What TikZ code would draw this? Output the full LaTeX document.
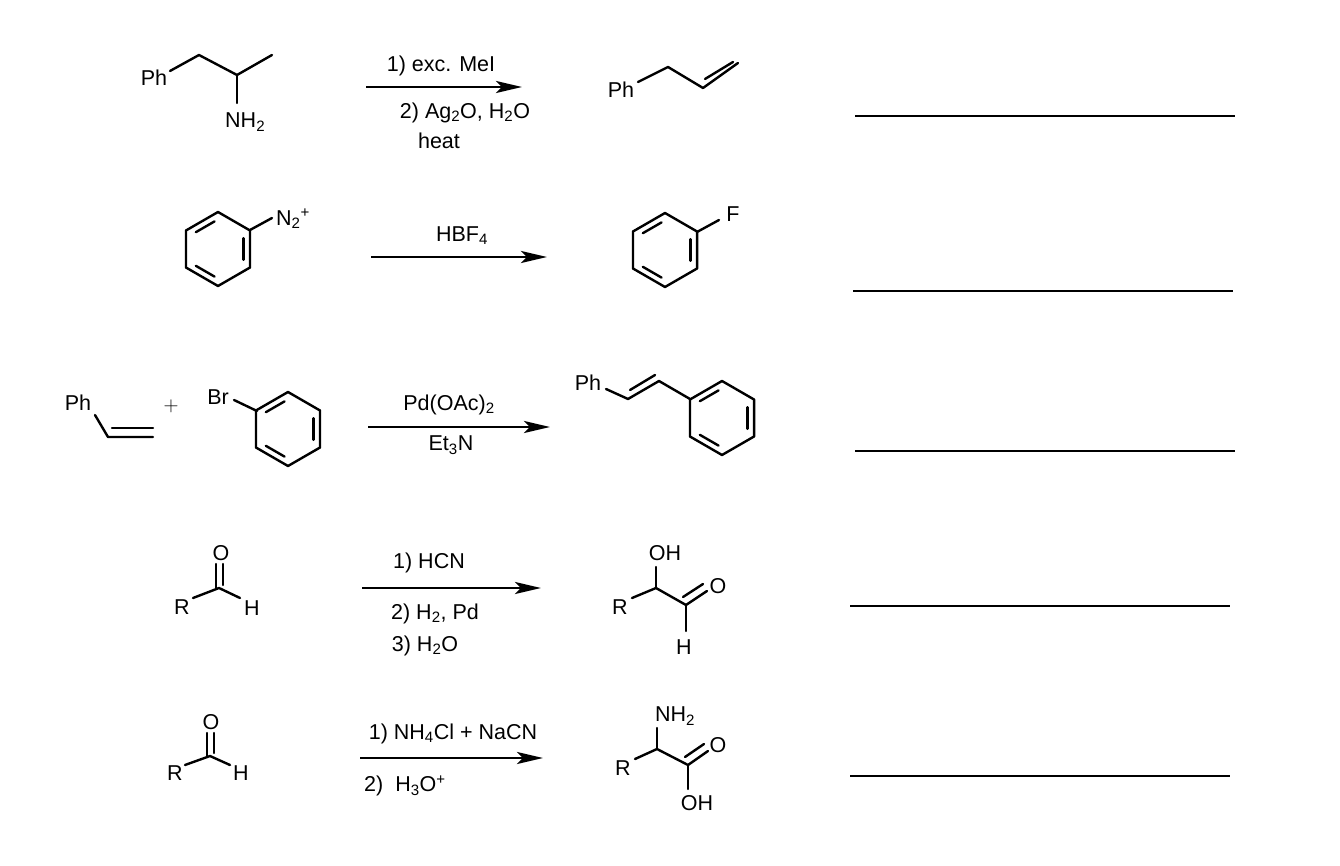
\documentclass[tikz,border=0pt]{standalone}
\usepackage{fontspec}
\setmainfont{Liberation Sans}
\usetikzlibrary{arrows.meta,calc}
\tikzset{
  bond/.style={line width=2.4pt,line cap=round,line join=round},
  rxn/.style={line width=2.8pt,-{Stealth[length=26pt,width=12pt,inset=6pt]}},
  lbl/.style={inner sep=0pt,font=\fontsize{21.5}{25}\selectfont},
  ansline/.style={line width=2.6pt}
}
\newcommand{\benz}[3]{%
  \draw[bond] ($(#1,#2)+(30:#3)$) -- ($(#1,#2)+(90:#3)$) -- ($(#1,#2)+(150:#3)$) -- ($(#1,#2)+(210:#3)$) -- ($(#1,#2)+(270:#3)$) -- ($(#1,#2)+(330:#3)$) -- cycle;
  \foreach \a in {210,330,90}{
    \draw[bond,shorten <=4pt,shorten >=4pt] ($(#1,#2)+(\a:0.8*#3)$) -- ($(#1,#2)+(\a+60:0.8*#3)$);
  }}
\begin{document}
\begin{tikzpicture}[x=1pt,y=-1pt]
\useasboundingbox (0,0) rectangle (1340,866);
% ---- Row 1
\node[lbl] (ph1) at (154,78) {Ph};
\draw[bond] (170,71) -- (199,55) -- (237,75) -- (272,55);
\draw[bond] (237,75) -- (237,103);
\node[lbl,anchor=west] (nh2a) at (225,122) {NH\textsubscript{2}};
\draw[rxn] (366,87) -- (522,87);
\node[lbl] (r1a) at (441,66) {1) exc. MeI};
\node[lbl] (r1b) at (465,113) {2) Ag\textsubscript{2}O, H\textsubscript{2}O};
\node[lbl] (r1c) at (439,141) {heat};
\node[lbl] (ph1p) at (621,90) {Ph};
\draw[bond] (638,82) -- (668,67) -- (703,88) -- (738,63);
\draw[bond] (705,79) -- (733,62);
\draw[ansline] (855,116) -- (1235,116);
% ---- Row 2
\benz{218}{249}{37}
\draw[bond] (250,230) -- (272,218);
\node[lbl,anchor=west] (n2) at (276,219) {N\textsubscript{2}\textsuperscript{+}};
\draw[rxn] (371,257) -- (547,257);
\node[lbl] (r2) at (462,236) {HBF\textsubscript{4}};
\benz{665}{250}{37}
\draw[bond] (697,232) -- (719,220);
\node[lbl] (f) at (733,214) {F};
\draw[ansline] (853,291) -- (1233,291);
% ---- Row 3
\node[lbl] (ph3) at (78,403) {Ph};
\draw[bond] (95,415) -- (108,437) -- (153,437);
\draw[bond] (112,428) -- (153,428);
\node[lbl,font=\fontsize{21.5}{25}\selectfont\rmfamily] (plus) at (171,406) {$+$};
\node[lbl] (br) at (218,397) {Br};
\draw[bond] (234,400) -- (257,411);
\benz{288}{429}{37}
\draw[rxn] (368,427) -- (550,427);
\node[lbl] (r3a) at (449,405) {Pd(OAc)\textsubscript{2}};
\node[lbl] (r3b) at (451,445) {Et\textsubscript{3}N};
\node[lbl] (ph3p) at (588,383) {Ph};
\draw[bond] (606,389) -- (628,399) -- (659,381) -- (690,399);
\draw[bond] (630,390) -- (655,375);
\benz{722}{418}{37}
\draw[ansline] (855,451) -- (1235,451);
% ---- Row 4
\node[lbl] (o4) at (221,553) {O};
\draw[bond] (216,564) -- (216,589);
\draw[bond] (223,564) -- (223,585);
\draw[bond] (193,598) -- (219,588) -- (240,598);
\node[lbl] (r4) at (182,607) {R};
\node[lbl] (h4) at (252,608) {H};
\draw[rxn] (362,588) -- (541,588);
\node[lbl] (r4a) at (429,563) {1) HCN};
\node[lbl] (r4b) at (435,614) {2) H\textsubscript{2}, Pd};
\node[lbl] (r4c) at (425,646) {3) H\textsubscript{2}O};
\node[lbl] (r4p) at (620,607) {R};
\draw[bond] (632,598) -- (656,588) -- (686,605) -- (707,591);
\draw[bond] (683,597) -- (703,584);
\draw[bond] (656,588) -- (656,567);
\draw[bond] (686,605) -- (686,631);
\node[lbl] (oh4) at (665,553) {OH};
\node[lbl] (o4p) at (718,586) {O};
\node[lbl] (h4p) at (684,647) {H};
\draw[ansline] (850,606) -- (1230,606);
% ---- Row 5
\node[lbl] (o5) at (211,722) {O};
\draw[bond] (207,733) -- (207,757);
\draw[bond] (214,733) -- (214,753);
\draw[bond] (185,765) -- (210,756) -- (230,765);
\node[lbl] (r5) at (175,773) {R};
\node[lbl] (h5) at (241,773) {H};
\draw[rxn] (360,758) -- (543,758);
\node[lbl] (r5a) at (453,734) {1) NH\textsubscript{4}Cl + NaCN};
\node[lbl,anchor=west] (r5b) at (364,786) {2)\ \ H\textsubscript{3}O\textsuperscript{+}};
\node[lbl] (r5p) at (623,768) {R};
\draw[bond] (635,759) -- (657,749) -- (688,765) -- (708,751);
\draw[bond] (685,757) -- (704,744);
\draw[bond] (657,749) -- (657,728);
\draw[bond] (688,765) -- (688,789);
\node[lbl] (nh25) at (675,716) {NH\textsubscript{2}};
\node[lbl] (o5p) at (718,745) {O};
\node[lbl] (oh5) at (697,803) {OH};
\draw[ansline] (850,776) -- (1230,776);
\end{tikzpicture}
\end{document}
